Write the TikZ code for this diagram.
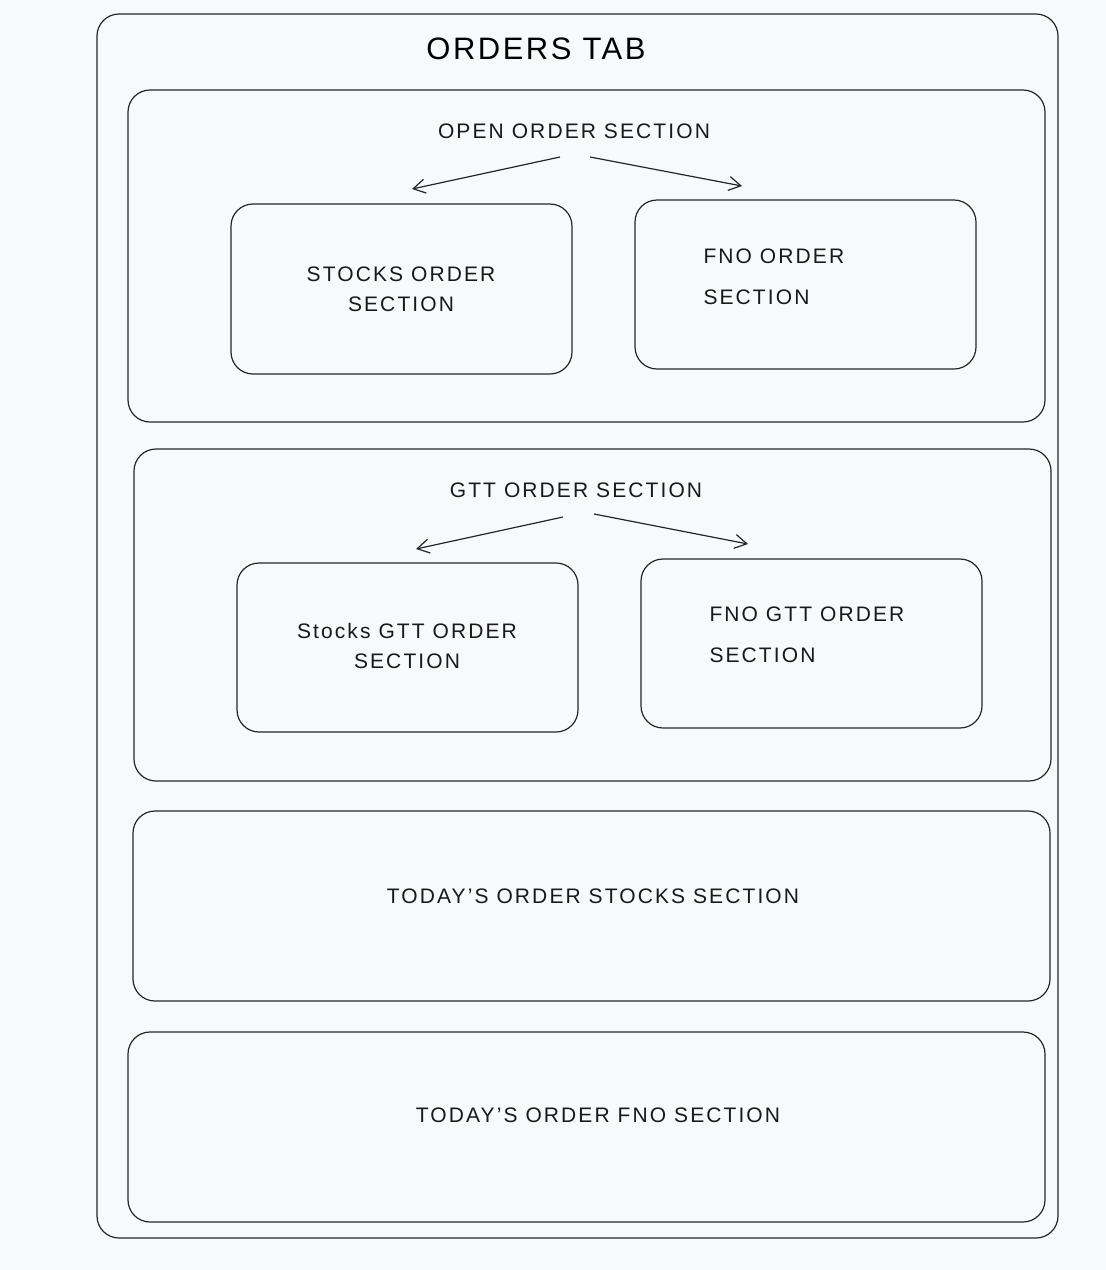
\documentclass[tikz,border=0pt]{standalone}
\usepackage{fontspec}
\setmainfont{Liberation Sans}
\usetikzlibrary{arrows.meta}
\begin{document}
\begin{tikzpicture}[x=1pt,y=-1pt,
  box/.style={draw=black!85,line width=1.2pt,rounded corners=22pt},
  lbl/.style={font=\fontsize{21}{30}\selectfont\addfontfeature{LetterSpace=10},text=black!90},
  arr/.style={draw=black!85,line width=1.2pt,-{Straight Barb[length=12pt,width=14pt]}}]
\fill[fill={rgb,255:red,248;green,249;blue,250}] (0,0) rectangle (1106,1270);
\useasboundingbox (0,0) rectangle (1106,1270);
\draw[box] (97,14) rectangle (1058,1238);
\node[font=\fontsize{31}{36}\selectfont\addfontfeature{LetterSpace=8}] (title) at (536,49) {ORDERS TAB};
\draw[box] (128,90) rectangle (1045,422);
\node[lbl] (open) at (574,131) {OPEN ORDER SECTION};
\draw[box] (231,204) rectangle (572,374);
\node[lbl,align=center] (stk) at (401,289) {STOCKS ORDER\\SECTION};
\draw[box] (635,200) rectangle (976,369);
\node[lbl,align=left,anchor=west] (fno) at (700,277) {FNO ORDER\\[11pt]SECTION};
\coordinate (a1) at (412,189); \coordinate (a2) at (742,186);
\draw[arr] (560,157) -- (a1);
\draw[arr] (590,157) -- (a2);
\draw[box] (134,449) rectangle (1051,781);
\node[lbl] (gtt) at (576,490) {GTT ORDER SECTION};
\draw[box] (237,563) rectangle (578,732);
\node[lbl,align=center] (sg) at (407,646) {Stocks GTT ORDER\\SECTION};
\draw[box] (641,559) rectangle (982,728);
\node[lbl,align=left,anchor=west] (fg) at (706,635) {FNO GTT ORDER\\[11pt]SECTION};
\coordinate (b1) at (416,549); \coordinate (b2) at (748,544);
\draw[arr] (563,517) -- (b1);
\draw[arr] (594,514) -- (b2);
\draw[box] (133,811) rectangle (1050,1001);
\node[lbl] (ts) at (593,896) {TODAY'S ORDER STOCKS SECTION};
\draw[box] (128,1032) rectangle (1045,1222);
\node[lbl] (tf) at (598,1115) {TODAY'S ORDER FNO SECTION};
\end{tikzpicture}
\end{document}
